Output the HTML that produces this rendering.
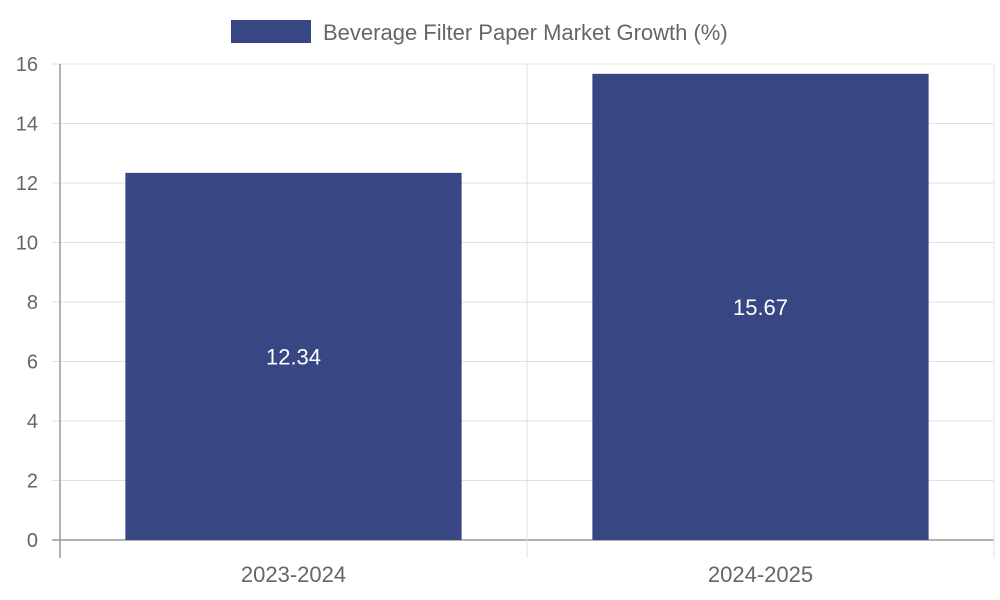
<!DOCTYPE html>
<html><head><meta charset="utf-8"><style>
body{margin:0;background:#fff;}
svg{display:block;font-family:"Liberation Sans",sans-serif;}
</style></head><body>
<svg id="chart" width="1000" height="600">
<g id="legend">
<rect x="231" y="20" width="80" height="23" fill="#384683"></rect>
<text x="323" y="40" font-size="22" fill="#666">Beverage Filter Paper Market Growth (%)</text>
</g>
<g id="grid"></g><g id="bars"></g><g id="axes"></g>
</svg>
<script>
const categories=["2023-2024","2024-2025"];
const values=[12.34,15.67];
const yTicks=[0,2,4,6,8,10,12,14,16];
const L=60,R=994,T=64,B=540,yMax=16;
const y=v=>B-(B-T)*v/yMax;
const band=(R-L)/categories.length;
const x=i=>L+band*i;
const NS="http://www.w3.org/2000/svg";
function mk(tag,attrs,parent){const e=document.createElementNS(NS,tag);for(const k in attrs)e.setAttribute(k,attrs[k]);document.getElementById(parent).appendChild(e);return e;}
yTicks.forEach(t=>{
 const l=mk('line',{x1:L-8,x2:R,y1:y(t),y2:y(t),stroke:t===0?'#999':'#e0e0e0','stroke-width':t===0?1.5:1},'grid');
 
 
 const tx=mk('text',{x:L-22,y:y(t)+7,'text-anchor':'end','font-size':20,fill:'#666'},'axes');
 tx.textContent=t;
 
 
});
for(let i=0;i<=categories.length;i++){
 const l=mk('line',{x1:x(i),x2:x(i),y1:T,y2:B+18,stroke:i===0?'#999':'#e0e0e0','stroke-width':i===0?1.5:1},'grid');
 
 
}
categories.forEach((c,i)=>{
 const w=band*0.72,bx=x(i)+(band-w)/2;
 const r=mk('rect',{x:bx,y:y(values[i]),width:w,height:B-y(values[i]),fill:'#384683'},'bars');
 
 
 const v=mk('text',{x:bx+w/2,y:(y(values[i])+B)/2+8,'text-anchor':'middle','font-size':22,fill:'#fff'},'bars');
 v.textContent=values[i].toFixed(2);
 
 
 const t=mk('text',{x:x(i)+band/2,y:582,'text-anchor':'middle','font-size':22,fill:'#666'},'axes');
 t.textContent=c;
 
 
});
</script>
</body></html>
